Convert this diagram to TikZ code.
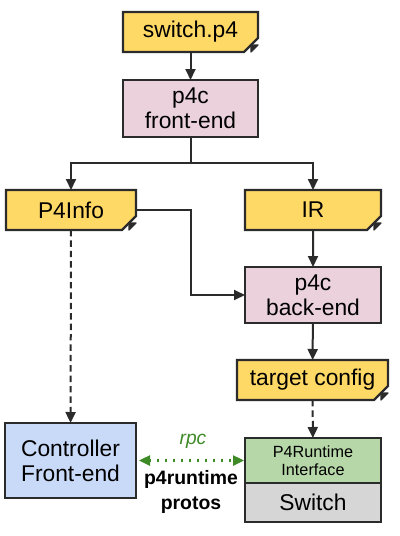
\documentclass[tikz,border=0pt]{standalone}
\usepackage{fontspec}
\setmainfont{Liberation Sans}
\usetikzlibrary{arrows.meta, shapes.misc}

\definecolor{edge}{HTML}{2B2B2B}
\definecolor{notefill}{HTML}{FFD966}
\definecolor{passfill}{HTML}{EAD1DC}
\definecolor{ctlfill}{HTML}{C9DAF8}
\definecolor{rtfill}{HTML}{B6D7A8}
\definecolor{swfill}{HTML}{D6D6D6}
\definecolor{rpcgreen}{HTML}{3D8A26}

\tikzset{
	box/.style = {draw = edge, line width = 1.2pt, inner sep = 0pt, outer sep = 0pt,
		align = center, font = \fontsize{11.4}{12.5}\selectfont},
	note/.style = {box, fill = notefill, chamfered rectangle,
		chamfered rectangle corners = south east,
		chamfered rectangle xsep = 3.5pt, chamfered rectangle ysep = 3.5pt},
	pass/.style = {box, fill = passfill},
	flow/.style = {->, line width = 1pt, draw = edge},
	loose/.style = {flow, dash pattern = on 3.2pt off 2pt},
}

\begin{document}
\begin{tikzpicture}[x = 0.5pt, y = -0.5pt, > = {Triangle[length = 5.5pt, width = 5pt]}]

	\useasboundingbox (0, 0) rectangle (400, 536);

	% Compiler chain

	\node [note, minimum width = 67.5pt, minimum height = 20pt] (src) at (190.5, 32) {switch.p4};
	\node [pass, minimum width = 67.5pt, minimum height = 28.5pt] (fe) at (190.5, 108.5) {p4c\\front-end};
	\node [note, minimum width = 65pt, minimum height = 20pt] (info) at (71, 210) {P4Info};
	\node [note, minimum width = 68pt, minimum height = 20pt] (ir) at (313, 210) {IR};
	\node [pass, minimum width = 68pt, minimum height = 28pt] (be) at (313, 295) {p4c\\back-end};
	\node [note, minimum width = 75.5pt, minimum height = 20pt] (cfg) at (312.5, 380) {target config};

	% Folded corners of the notes

	\foreach \n in {src, info, ir, cfg}
		\filldraw [edge, line width = 0.6pt, line join = round]
			([xshift = -3.5pt] \n.east |- \n.south) -- ([yshift = 3.5pt] \n.east |- \n.south)
			-- ([xshift = -3.5pt, yshift = 3.5pt] \n.east |- \n.south) -- cycle;

	% Controller and switch

	\node [box, fill = ctlfill, minimum width = 65.5pt, minimum height = 37.5pt] (ctl) at (70.5, 460.5) {Controller\\Front-end};
	\node [box, fill = rtfill, minimum width = 68pt, minimum height = 22.5pt,
		font = \fontsize{8.1}{9.2}\selectfont] (rt) at (313, 460.5) {P4Runtime\\Interface};
	\node [box, fill = swfill, minimum width = 68pt, minimum height = 19.5pt] (sw) at (313, 502.5) {Switch};

	% Arrows

	\coordinate (fork) at (190.5, 163);

	\draw [flow] (src) -- (fe);
	\draw [flow, -] (fe) -- (fork);
	\draw [flow] (fork) -| (info.north);
	\draw [flow] (fork) -| (ir.north);
	\draw [flow] (ir) -- (be);
	\draw [flow] (info.east) -| (fork |- be.west) -- (be.west);
	\draw [flow] (be) -- (cfg);

	\draw [loose] (info) -- (ctl);
	\draw [loose] (cfg) -- (rt);

	% The rpc link

	\draw [<->, rpcgreen, line width = 1.2pt, dash pattern = on 1pt off 3pt,
		shorten < = 1.5pt, shorten > = 0.5pt] (ctl.east) -- (rt.west);
	\node [text = rpcgreen, font = \fontsize{9.6}{11}\selectfont\itshape] (rpc) at (193, 441) {rpc};
	\node [align = center, font = \fontsize{9.7}{12.5}\selectfont\bfseries] (protos) at (191, 492) {p4runtime\\protos};

\end{tikzpicture}
\end{document}
